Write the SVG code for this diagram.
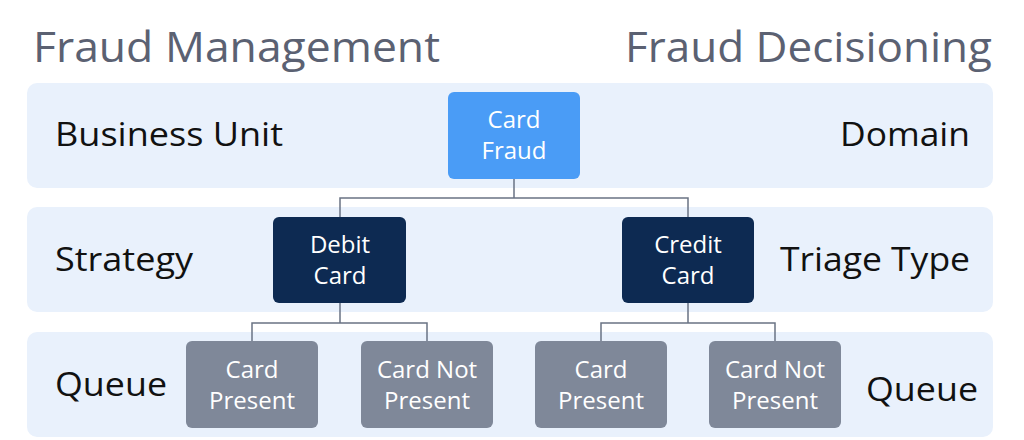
<svg xmlns="http://www.w3.org/2000/svg" width="1024" height="440" viewBox="0 0 1024 440">
<style>
.band{fill:#e9f1fc}
.title{font-family:"Open Sans","Noto Sans",sans-serif;font-size:42px;fill:#5b6172}
.lab{font-family:"Open Sans","Noto Sans",sans-serif;font-size:33px;fill:#111}
.nt{font-family:"Open Sans","Noto Sans",sans-serif;font-size:24px;fill:#fff;text-anchor:middle}
.c{fill:none;stroke:#6a7384;stroke-width:1.5}
</style>
<rect width="1024" height="440" fill="#fff"/>
<text class="title" x="33" y="62" textLength="407" lengthAdjust="spacingAndGlyphs">Fraud Management</text>
<text class="title" x="625" y="62" textLength="367" lengthAdjust="spacingAndGlyphs">Fraud Decisioning</text>
<rect class="band" x="27" y="83" width="966" height="105" rx="10"/>
<rect class="band" x="27" y="207" width="966" height="105" rx="10"/>
<rect class="band" x="27" y="332" width="966" height="105" rx="10"/>
<text class="lab" x="55" y="146" textLength="228" lengthAdjust="spacingAndGlyphs">Business Unit</text>
<text class="lab" x="840" y="146" textLength="130" lengthAdjust="spacingAndGlyphs">Domain</text>
<text class="lab" x="55" y="271" textLength="138" lengthAdjust="spacingAndGlyphs">Strategy</text>
<text class="lab" x="780" y="271" textLength="190" lengthAdjust="spacingAndGlyphs">Triage Type</text>
<text class="lab" x="55" y="396" textLength="112" lengthAdjust="spacingAndGlyphs">Queue</text>
<text class="lab" x="866" y="401" textLength="112" lengthAdjust="spacingAndGlyphs">Queue</text>
<g id="connectors">
<path class="c" d="M514 179V198M340 217V198H688V217"/>
<path class="c" d="M340 303V323M252 341V323H427V341"/>
<path class="c" d="M688 303V323M601 341V323H775V341"/>
</g>
<g id="card-fraud"><rect x="448" y="92" width="132" height="87" rx="6" fill="#4a9cf6"/><text class="nt" x="514" y="128">Card</text><text class="nt" x="514" y="159">Fraud</text></g>
<g id="debit-card"><rect x="273" y="217" width="133" height="86" rx="6" fill="#0d2a52"/><text class="nt" x="340" y="253">Debit</text><text class="nt" x="340" y="284">Card</text></g>
<g id="credit-card"><rect x="622" y="217" width="132" height="86" rx="6" fill="#0d2a52"/><text class="nt" x="688" y="253">Credit</text><text class="nt" x="688" y="284">Card</text></g>
<g id="debit-present"><rect x="186" y="341" width="132" height="87" rx="6" fill="#7f8899"/><text class="nt" x="252" y="378">Card</text><text class="nt" x="252" y="409">Present</text></g>
<g id="debit-not-present"><rect x="361" y="341" width="132" height="87" rx="6" fill="#7f8899"/><text class="nt" x="427" y="378">Card Not</text><text class="nt" x="427" y="409">Present</text></g>
<g id="credit-present"><rect x="535" y="341" width="132" height="87" rx="6" fill="#7f8899"/><text class="nt" x="601" y="378">Card</text><text class="nt" x="601" y="409">Present</text></g>
<g id="credit-not-present"><rect x="709" y="341" width="132" height="87" rx="6" fill="#7f8899"/><text class="nt" x="775" y="378">Card Not</text><text class="nt" x="775" y="409">Present</text></g>
</svg>
